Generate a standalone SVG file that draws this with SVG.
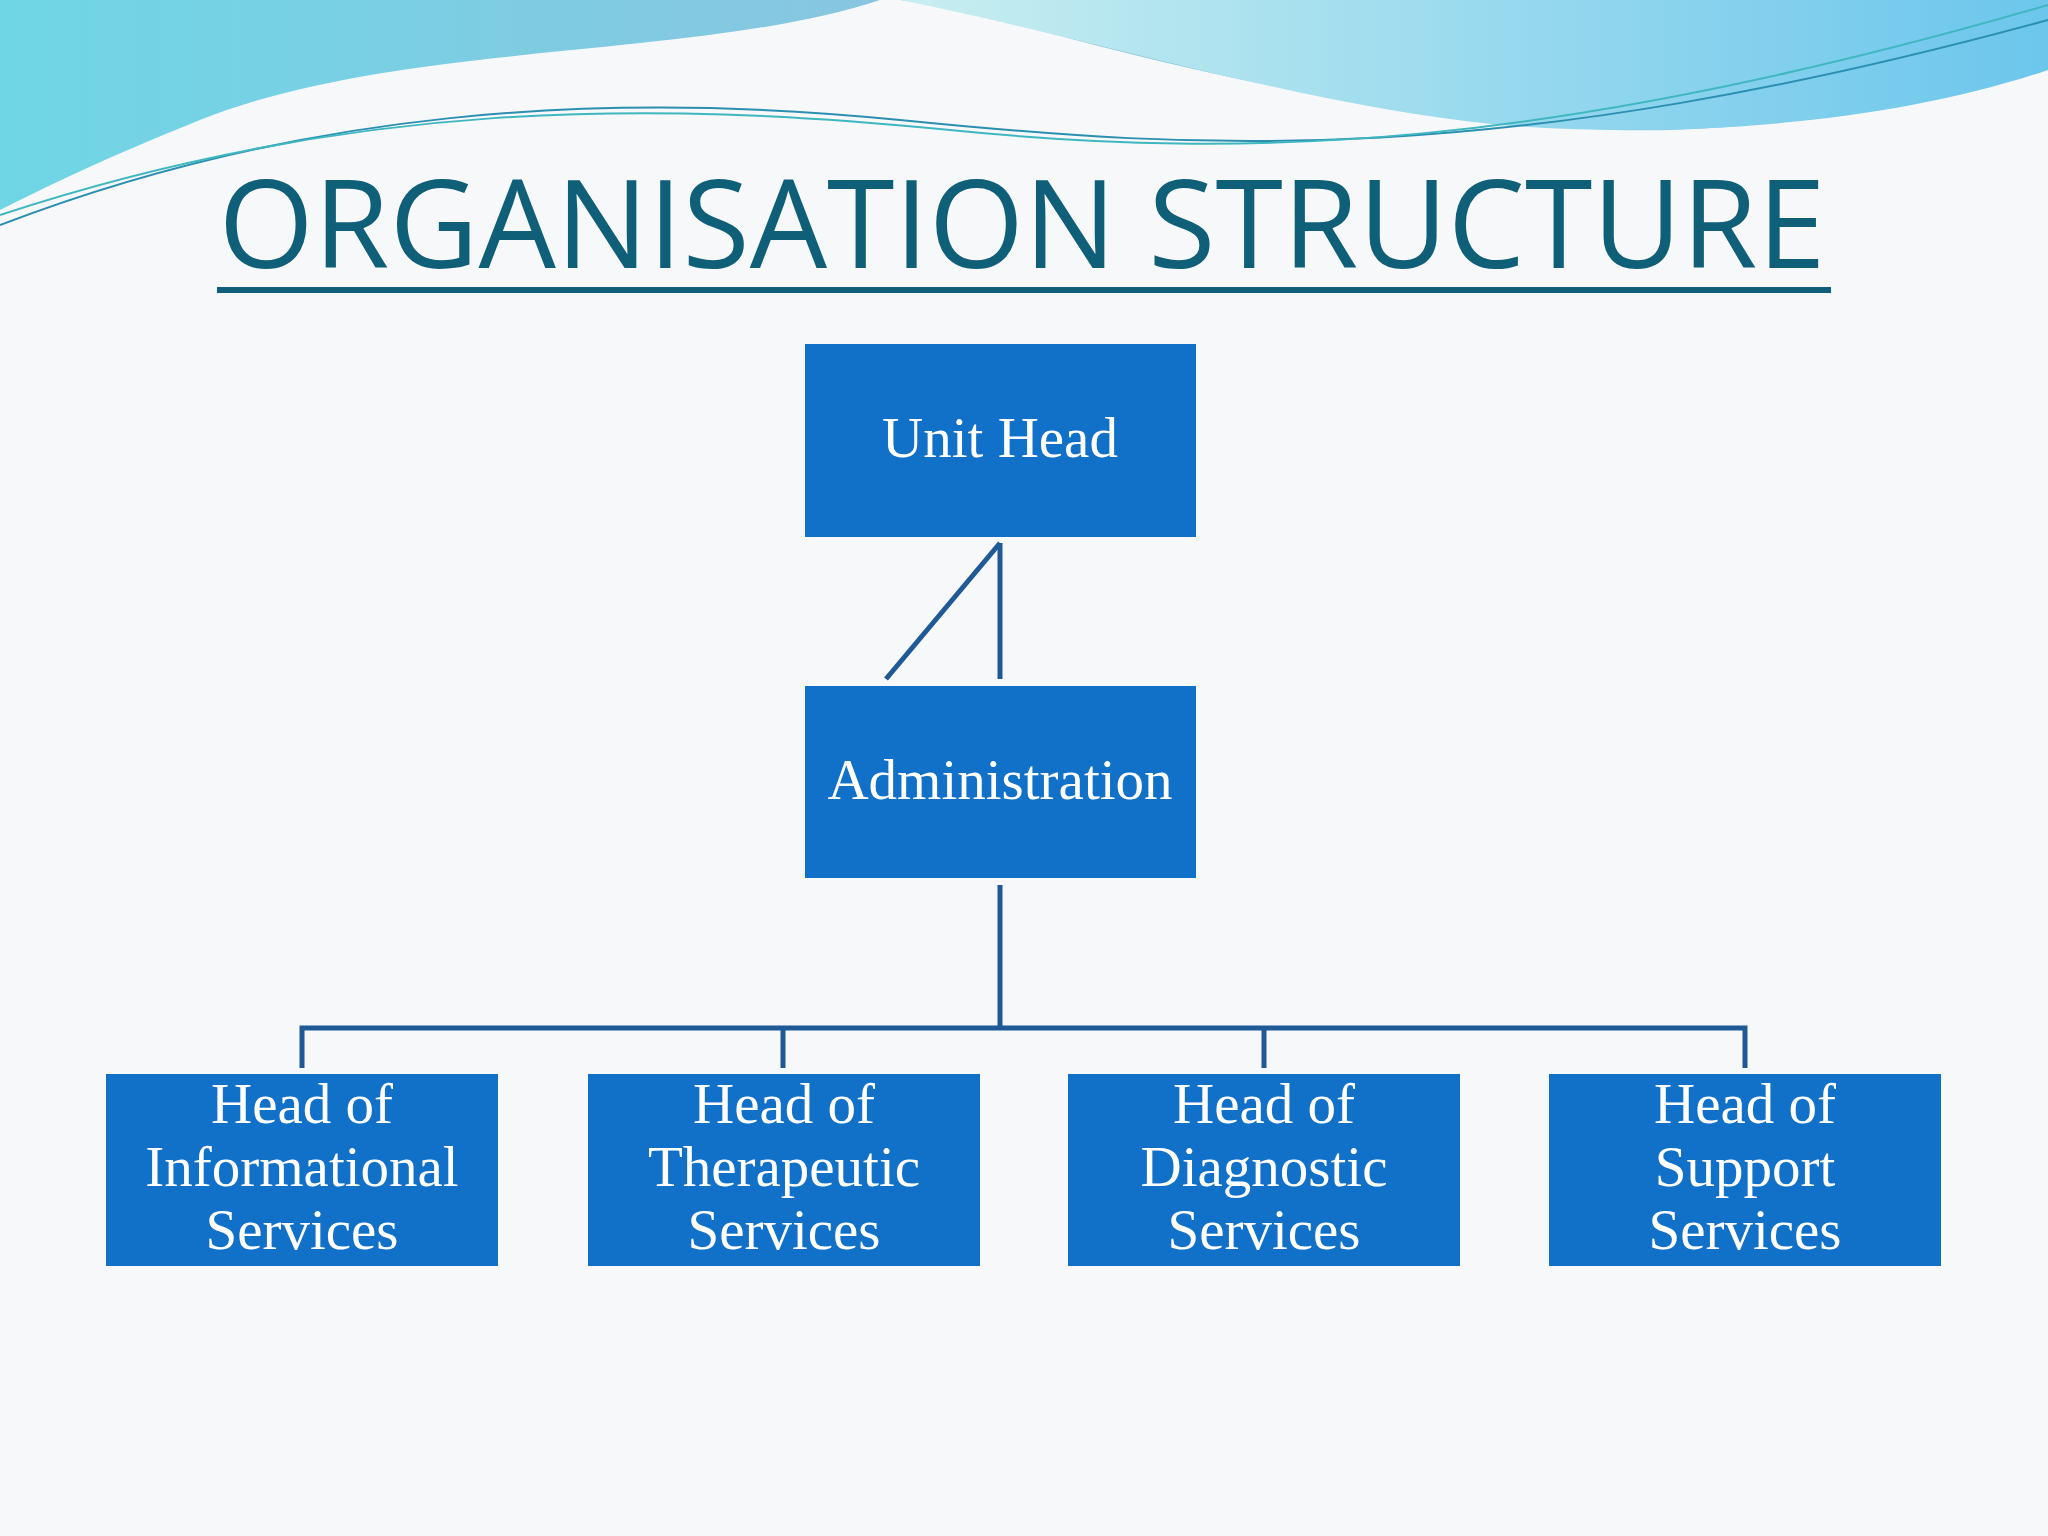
<svg xmlns="http://www.w3.org/2000/svg" width="2048" height="1536" viewBox="0 0 2048 1536">
<defs>
<linearGradient id="w1" x1="0" y1="0" x2="1" y2="0"><stop offset="0" stop-color="#6fd6e6"/><stop offset="0.5" stop-color="#8cc3df"/><stop offset="1" stop-color="#7ecfe8"/></linearGradient>
<linearGradient id="w2" x1="0" y1="0" x2="1" y2="0"><stop offset="0" stop-color="#c8eef0"/><stop offset="1" stop-color="#6cc6ec"/></linearGradient>
<style>
.box{fill:#1170c8}
.t{font-family:"Liberation Serif","DejaVu Serif",serif;font-size:57px;fill:#fff;text-anchor:middle}
.c{stroke:#1f5a96;stroke-width:5;fill:none}
</style>
</defs>
<rect width="2048" height="1536" fill="#f7f8fa"/>
<path d="M0 0H2048V60C1900 110 1700 150 1500 120C1200 90 1000 10 900 0 L880 0C700 60 400 40 200 120C100 160 40 190 0 210Z" fill="url(#w1)"/>
<path d="M900 0H2048V70C1900 120 1700 140 1500 125C1300 105 1100 40 900 0Z" fill="url(#w2)"/>
<path d="M0 225C300 110 600 90 900 120C1200 150 1500 170 2048 20" stroke="#2a8fb0" stroke-width="2" fill="none"/>
<path d="M0 215C350 100 650 100 950 130C1250 160 1550 150 2048 5" stroke="#3fb7c0" stroke-width="2" fill="none"/>
<g id="title">
<text x="1022" y="268" font-family="'Open Sans','Liberation Sans',sans-serif" font-size="122" fill="#0f5f78" text-anchor="middle" textLength="1607" lengthAdjust="spacingAndGlyphs">ORGANISATION STRUCTURE</text>
<rect x="217" y="287" width="1614" height="6" fill="#0f5f78"/>
</g>
<g id="connectors" class="c">
<line x1="1000" y1="543" x2="1000" y2="679"/>
<line x1="1000" y1="543" x2="886" y2="679"/>
<line x1="1000" y1="885" x2="1000" y2="1028"/>
<polyline points="302,1068 302,1028 1745,1028 1745,1068"/>
<line x1="783" y1="1028" x2="783" y2="1068"/>
<line x1="1264" y1="1028" x2="1264" y2="1068"/>
</g>
<g id="unit-head"><rect class="box" x="805" y="344" width="391" height="193"/><text class="t" x="1000" y="457">Unit Head</text></g>
<g id="administration"><rect class="box" x="805" y="686" width="391" height="192"/><text class="t" x="1000" y="799">Administration</text></g>
<g id="informational"><rect class="box" x="106" y="1074" width="392" height="192"/><text class="t" x="302" y="1123">Head of</text><text class="t" x="302" y="1186">Informational</text><text class="t" x="302" y="1249">Services</text></g>
<g id="therapeutic"><rect class="box" x="588" y="1074" width="392" height="192"/><text class="t" x="784" y="1123">Head of</text><text class="t" x="784" y="1186">Therapeutic</text><text class="t" x="784" y="1249">Services</text></g>
<g id="diagnostic"><rect class="box" x="1068" y="1074" width="392" height="192"/><text class="t" x="1264" y="1123">Head of</text><text class="t" x="1264" y="1186">Diagnostic</text><text class="t" x="1264" y="1249">Services</text></g>
<g id="support"><rect class="box" x="1549" y="1074" width="392" height="192"/><text class="t" x="1745" y="1123">Head of</text><text class="t" x="1745" y="1186">Support</text><text class="t" x="1745" y="1249">Services</text></g>
</svg>
